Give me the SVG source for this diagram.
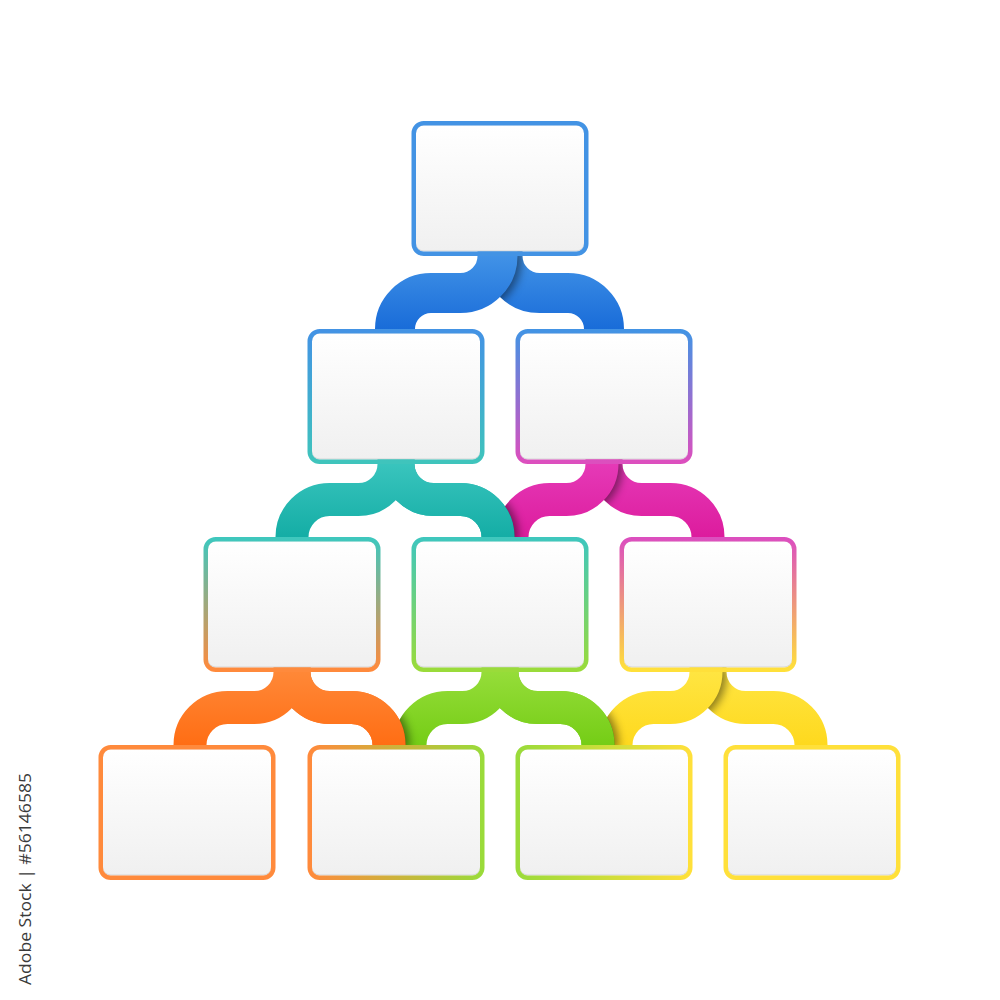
<svg xmlns="http://www.w3.org/2000/svg" xmlns:xlink="http://www.w3.org/1999/xlink" width="1000" height="1000" viewBox="0 0 1000 1000">
<style>
.s40{fill:none;stroke-width:40}
.s33{fill:none;stroke-width:33}
.base{fill:#d6d6d6}
.face{fill:url(#face)}
.frame{fill:none;stroke-width:4.5}
.shadow{fill:none;stroke:#000;stroke-opacity:0.45;filter:url(#blur)}
.wm{font-family:"Open Sans","DejaVu Sans",sans-serif;font-size:17px;fill:#3a3a3a}
</style>
<defs>
<linearGradient id="face" x1="0" y1="0" x2="0" y2="1"><stop offset="0" stop-color="#ffffff"/><stop offset="1" stop-color="#f0f0f0"/></linearGradient>
<linearGradient id="cBlue" x1="0" y1="0" x2="0" y2="1"><stop offset="0" stop-color="#4596e8"/><stop offset="1" stop-color="#176ad8"/></linearGradient>
<linearGradient id="cTeal" x1="0" y1="0" x2="0" y2="1"><stop offset="0" stop-color="#3cc6bf"/><stop offset="1" stop-color="#12aca4"/></linearGradient>
<linearGradient id="cMag" x1="0" y1="0" x2="0" y2="1"><stop offset="0" stop-color="#e63cb9"/><stop offset="1" stop-color="#dc1a9c"/></linearGradient>
<linearGradient id="cOra" x1="0" y1="0" x2="0" y2="1"><stop offset="0" stop-color="#ff8a3a"/><stop offset="1" stop-color="#ff6c12"/></linearGradient>
<linearGradient id="cGre" x1="0" y1="0" x2="0" y2="1"><stop offset="0" stop-color="#98de3c"/><stop offset="1" stop-color="#73cc14"/></linearGradient>
<linearGradient id="cYel" x1="0" y1="0" x2="0" y2="1"><stop offset="0" stop-color="#ffe644"/><stop offset="1" stop-color="#fed81c"/></linearGradient>
<linearGradient id="fBlue" x1="0" y1="0" x2="0" y2="1"><stop offset="0" stop-color="#4393e4"/><stop offset="1" stop-color="#4393e4"/></linearGradient>
<linearGradient id="fBT" x1="0" y1="0" x2="0" y2="1"><stop offset="0" stop-color="#4393e4"/><stop offset="1" stop-color="#3fc4bc"/></linearGradient>
<linearGradient id="fBM" x1="0" y1="0" x2="0" y2="1"><stop offset="0" stop-color="#4393e4"/><stop offset="1" stop-color="#dc4fbe"/></linearGradient>
<linearGradient id="fTO" x1="0" y1="0" x2="0" y2="1"><stop offset="0" stop-color="#3fc7bd"/><stop offset="1" stop-color="#ff8a3c"/></linearGradient>
<linearGradient id="fTG" x1="0" y1="0" x2="0" y2="1"><stop offset="0" stop-color="#3fc7bd"/><stop offset="1" stop-color="#9adb3a"/></linearGradient>
<linearGradient id="fMY" x1="0" y1="0" x2="0" y2="1"><stop offset="0" stop-color="#dc4fbe"/><stop offset="1" stop-color="#ffe03a"/></linearGradient>
<linearGradient id="fO" x1="0" y1="0" x2="1" y2="0"><stop offset="0" stop-color="#ff8a3c"/><stop offset="1" stop-color="#ff8a3c"/></linearGradient>
<linearGradient id="fOG" x1="0" y1="0" x2="1" y2="0"><stop offset="0" stop-color="#ff8a3c"/><stop offset="1" stop-color="#9adb3a"/></linearGradient>
<linearGradient id="fGY" x1="0" y1="0" x2="1" y2="0"><stop offset="0" stop-color="#9adb3a"/><stop offset="1" stop-color="#ffe03a"/></linearGradient>
<linearGradient id="fY" x1="0" y1="0" x2="1" y2="0"><stop offset="0" stop-color="#ffe03a"/><stop offset="1" stop-color="#ffe03a"/></linearGradient>
<filter id="blur" filterUnits="userSpaceOnUse" x="0" y="0" width="1000" height="1000"><feGaussianBlur stdDeviation="4"/></filter>

<path id="bL" d="M497.5 248 V256 A37 37 0 0 1 460.5 293 H431 A36 36 0 0 0 395 329 V333"/>
<path id="bR" d="M502.5 248 V256 A37 37 0 0 0 539.5 293 H568 A36 36 0 0 1 604 329 V333"/>
<path id="tL" d="M394 458 V464 A35.5 35.5 0 0 1 358.5 499.5 H329.5 A37.5 37.5 0 0 0 292 537 V541"/>
<path id="tR" d="M398 458 V464 A35.5 35.5 0 0 0 433.5 499.5 H460.5 A37.5 37.5 0 0 1 498 537 V541"/>
<path id="mL" d="M602 458 V464 A35.5 35.5 0 0 1 566.5 499.5 H549.5 A37.5 37.5 0 0 0 512 537 V541"/>
<path id="mR" d="M606 458 V464 A35.5 35.5 0 0 0 641.5 499.5 H670.5 A37.5 37.5 0 0 1 708 537 V541"/>
<path id="oL" d="M290 666 V672 A35.5 35.5 0 0 1 254.5 707.5 H227.5 A37.5 37.5 0 0 0 190 745 V749"/>
<path id="oR" d="M294 666 V672 A35.5 35.5 0 0 0 329.5 707.5 H351.5 A37.5 37.5 0 0 1 389 745 V749"/>
<path id="gL" d="M498 666 V672 A35.5 35.5 0 0 1 462.5 707.5 H447.5 A37.5 37.5 0 0 0 410 745 V749"/>
<path id="gR" d="M502 666 V672 A35.5 35.5 0 0 0 537.5 707.5 H560.5 A37.5 37.5 0 0 1 598 745 V749"/>
<path id="yL" d="M706 666 V672 A35.5 35.5 0 0 1 670.5 707.5 H653.5 A37.5 37.5 0 0 0 616 745 V749"/>
<path id="yR" d="M710 666 V672 A35.5 35.5 0 0 0 745.5 707.5 H773.5 A37.5 37.5 0 0 1 811 745 V749"/>

<mask id="m_bR" maskUnits="userSpaceOnUse" x="0" y="0" width="1000" height="1000"><use xlink:href="#bR" fill="none" stroke="#fff" stroke-width="40"/></mask>
<mask id="m_tR" maskUnits="userSpaceOnUse" x="0" y="0" width="1000" height="1000"><use xlink:href="#tR" fill="none" stroke="#fff" stroke-width="33"/></mask>
<mask id="m_mR" maskUnits="userSpaceOnUse" x="0" y="0" width="1000" height="1000"><use xlink:href="#mR" fill="none" stroke="#fff" stroke-width="33"/></mask>
<mask id="m_mL" maskUnits="userSpaceOnUse" x="0" y="0" width="1000" height="1000"><use xlink:href="#mL" fill="none" stroke="#fff" stroke-width="33"/></mask>
<mask id="m_oR" maskUnits="userSpaceOnUse" x="0" y="0" width="1000" height="1000"><use xlink:href="#oR" fill="none" stroke="#fff" stroke-width="33"/></mask>
<mask id="m_gR" maskUnits="userSpaceOnUse" x="0" y="0" width="1000" height="1000"><use xlink:href="#gR" fill="none" stroke="#fff" stroke-width="33"/></mask>
<mask id="m_gL" maskUnits="userSpaceOnUse" x="0" y="0" width="1000" height="1000"><use xlink:href="#gL" fill="none" stroke="#fff" stroke-width="33"/></mask>
<mask id="m_yR" maskUnits="userSpaceOnUse" x="0" y="0" width="1000" height="1000"><use xlink:href="#yR" fill="none" stroke="#fff" stroke-width="33"/></mask>
<mask id="m_yL" maskUnits="userSpaceOnUse" x="0" y="0" width="1000" height="1000"><use xlink:href="#yL" fill="none" stroke="#fff" stroke-width="33"/></mask>
</defs>

<rect x="0" y="0" width="1000" height="1000" fill="#ffffff"/>

<g id="connectors">
  <use xlink:href="#bR" class="s40" stroke="url(#cBlue)"/>
  <g mask="url(#m_bR)"><use xlink:href="#bL" class="shadow" stroke-width="40" transform="translate(4,2)"/></g>
  <use xlink:href="#bL" class="s40" stroke="url(#cBlue)"/>

  <use xlink:href="#mR" class="s33" stroke="url(#cMag)"/>
  <g mask="url(#m_mR)"><use xlink:href="#mL" class="shadow" stroke-width="33" transform="translate(4,2)"/></g>
  <use xlink:href="#mL" class="s33" stroke="url(#cMag)"/>
  <use xlink:href="#tR" class="s33" stroke="url(#cTeal)"/>
  <g mask="url(#m_tR)"><use xlink:href="#tL" class="shadow" stroke-width="33" transform="translate(4,2)"/></g>
  <use xlink:href="#tL" class="s33" stroke="url(#cTeal)"/>
  <g mask="url(#m_mL)"><use xlink:href="#tR" class="shadow" stroke-width="33" transform="translate(4,0)"/></g>
  <use xlink:href="#tR" class="s33" stroke="url(#cTeal)"/>

  <use xlink:href="#yR" class="s33" stroke="url(#cYel)"/>
  <g mask="url(#m_yR)"><use xlink:href="#yL" class="shadow" stroke-width="33" transform="translate(4,2)"/></g>
  <use xlink:href="#yL" class="s33" stroke="url(#cYel)"/>
  <use xlink:href="#gR" class="s33" stroke="url(#cGre)"/>
  <g mask="url(#m_gR)"><use xlink:href="#gL" class="shadow" stroke-width="33" transform="translate(4,2)"/></g>
  <use xlink:href="#gL" class="s33" stroke="url(#cGre)"/>
  <g mask="url(#m_yL)"><use xlink:href="#gR" class="shadow" stroke-width="33" transform="translate(4,0)"/></g>
  <use xlink:href="#gR" class="s33" stroke="url(#cGre)"/>
  <use xlink:href="#oR" class="s33" stroke="url(#cOra)"/>
  <g mask="url(#m_oR)"><use xlink:href="#oL" class="shadow" stroke-width="33" transform="translate(4,2)"/></g>
  <use xlink:href="#oL" class="s33" stroke="url(#cOra)"/>
  <g mask="url(#m_gL)"><use xlink:href="#oR" class="shadow" stroke-width="33" transform="translate(4,0)"/></g>
  <use xlink:href="#oR" class="s33" stroke="url(#cOra)"/>
</g>

<g id="nodes">
  <g id="n1" transform="translate(500,121)">
    <rect class="base" x="-84" y="4.5" width="168" height="126" rx="8"/>
    <rect class="face" x="-84" y="4.5" width="168" height="125" rx="8"/>
    <rect class="frame" x="-86.25" y="2.25" width="172.5" height="130.5" rx="10" stroke="url(#fBlue)"/>
  </g>
  <g id="n2a" transform="translate(396,329)">
    <rect class="base" x="-84" y="4.5" width="168" height="126" rx="8"/>
    <rect class="face" x="-84" y="4.5" width="168" height="125" rx="8"/>
    <rect class="frame" x="-86.25" y="2.25" width="172.5" height="130.5" rx="10" stroke="url(#fBT)"/>
  </g>
  <g id="n2b" transform="translate(604,329)">
    <rect class="base" x="-84" y="4.5" width="168" height="126" rx="8"/>
    <rect class="face" x="-84" y="4.5" width="168" height="125" rx="8"/>
    <rect class="frame" x="-86.25" y="2.25" width="172.5" height="130.5" rx="10" stroke="url(#fBM)"/>
  </g>
  <g id="n3a" transform="translate(292,537)">
    <rect class="base" x="-84" y="4.5" width="168" height="126" rx="8"/>
    <rect class="face" x="-84" y="4.5" width="168" height="125" rx="8"/>
    <rect class="frame" x="-86.25" y="2.25" width="172.5" height="130.5" rx="10" stroke="url(#fTO)"/>
  </g>
  <g id="n3b" transform="translate(500,537)">
    <rect class="base" x="-84" y="4.5" width="168" height="126" rx="8"/>
    <rect class="face" x="-84" y="4.5" width="168" height="125" rx="8"/>
    <rect class="frame" x="-86.25" y="2.25" width="172.5" height="130.5" rx="10" stroke="url(#fTG)"/>
  </g>
  <g id="n3c" transform="translate(708,537)">
    <rect class="base" x="-84" y="4.5" width="168" height="126" rx="8"/>
    <rect class="face" x="-84" y="4.5" width="168" height="125" rx="8"/>
    <rect class="frame" x="-86.25" y="2.25" width="172.5" height="130.5" rx="10" stroke="url(#fMY)"/>
  </g>
  <g id="n4a" transform="translate(187,745)">
    <rect class="base" x="-84" y="4.5" width="168" height="126" rx="8"/>
    <rect class="face" x="-84" y="4.5" width="168" height="125" rx="8"/>
    <rect class="frame" x="-86.25" y="2.25" width="172.5" height="130.5" rx="10" stroke="url(#fO)"/>
  </g>
  <g id="n4b" transform="translate(396,745)">
    <rect class="base" x="-84" y="4.5" width="168" height="126" rx="8"/>
    <rect class="face" x="-84" y="4.5" width="168" height="125" rx="8"/>
    <rect class="frame" x="-86.25" y="2.25" width="172.5" height="130.5" rx="10" stroke="url(#fOG)"/>
  </g>
  <g id="n4c" transform="translate(604,745)">
    <rect class="base" x="-84" y="4.5" width="168" height="126" rx="8"/>
    <rect class="face" x="-84" y="4.5" width="168" height="125" rx="8"/>
    <rect class="frame" x="-86.25" y="2.25" width="172.5" height="130.5" rx="10" stroke="url(#fGY)"/>
  </g>
  <g id="n4d" transform="translate(812,745)">
    <rect class="base" x="-84" y="4.5" width="168" height="126" rx="8"/>
    <rect class="face" x="-84" y="4.5" width="168" height="125" rx="8"/>
    <rect class="frame" x="-86.25" y="2.25" width="172.5" height="130.5" rx="10" stroke="url(#fY)"/>
  </g>
</g>

<text class="wm" x="31" y="985" transform="rotate(-90 31 985)" textLength="212" lengthAdjust="spacingAndGlyphs">Adobe Stock | #56146585</text>
</svg>
